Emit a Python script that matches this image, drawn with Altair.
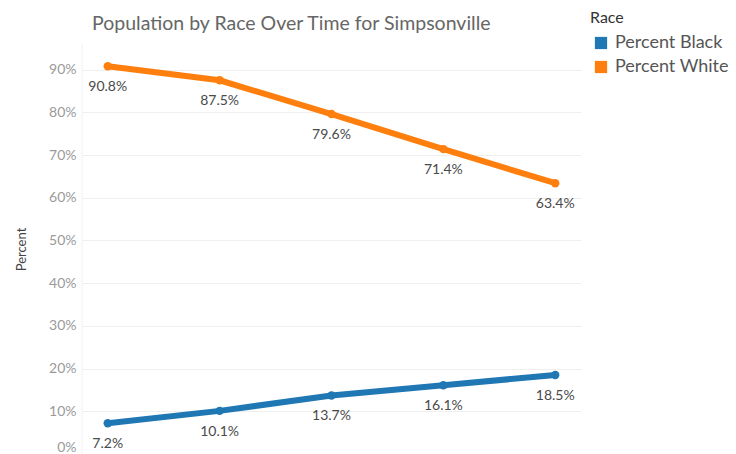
import altair as alt
import pandas as pd

# Census decades and the share of each race in Simpsonville
years = ["1980", "1990", "2000", "2010", "2020"]
pct_black = [7.2, 10.1, 13.7, 16.1, 18.5]
pct_white = [90.8, 87.5, 79.6, 71.4, 63.4]
races = ["Percent Black", "Percent White"]
colors = ["#1f77b4", "#ff7f0e"]

rows = []
for yr, b, w in zip(years, pct_black, pct_white):
    rows.append({"Year": yr, "Race": races[0], "Percent": b, "Label": f"{b:.1f}%"})
    rows.append({"Year": yr, "Race": races[1], "Percent": w, "Label": f"{w:.1f}%"})
df = pd.DataFrame(rows)

FONT = "Lato"

x = alt.X("Year:O", axis=None, scale=alt.Scale(type="point", padding=0.23))
y = alt.Y(
    "Percent:Q",
    scale=alt.Scale(domain=[0, 96], nice=False),
    axis=alt.Axis(
        title="Percent",
        values=[0, 10, 20, 30, 40, 50, 60, 70, 80, 90],
        labelExpr="datum.value + '%'",
        labelFlush=True,
        labelColor="#9a9a9a",
        labelFontSize=14,
        labelFont=FONT,
        labelPadding=6,
        titleFont=FONT,
        titleFontSize=13,
        titleFontWeight="normal",
        titleColor="#444444",
        titlePadding=20,
        ticks=False,
        domain=False,
        gridColor="#efefef",
        gridWidth=1,
    ),
)
color = alt.Color(
    "Race:N",
    scale=alt.Scale(domain=races, range=colors),
    legend=alt.Legend(
        title="Race",
        orient="none",
        legendX=508,
        legendY=-34,
        symbolType="square",
        symbolSize=150,
        symbolStrokeWidth=0,
        symbolOpacity=1,
        symbolOffset=2,
        titleFont=FONT,
        titleFontSize=16,
        titleFontWeight="normal",
        titleColor="#333333",
        titlePadding=8,
        labelFont=FONT,
        labelFontSize=18,
        labelColor="#555555",
        rowPadding=6,
        labelOffset=5,
    ),
)

base = alt.Chart(df).encode(x=x, y=y, color=color)

lines = base.mark_line(strokeWidth=6, strokeCap="round")
points = base.mark_circle(size=70, opacity=1)
labels = base.mark_text(
    dy=21, fontSize=14, font=FONT, color="#4a4a4a"
).encode(text="Label:N", color=alt.value("#4a4a4a"))

# faint left edge of the plot
edge = alt.Chart(pd.DataFrame({"v": [0]})).mark_rule(
    color="#f2f2f2", strokeWidth=1
).encode(x=alt.value(0), y=alt.value(0), y2=alt.value(410))

chart = (
    alt.layer(edge, lines, points, labels)
    .properties(
        width=499,
        height=410,
        background="white",
        title=alt.TitleParams(
            "Population by Race Over Time for Simpsonville",
            anchor="start",
            frame="group",
            dx=10,
            dy=24,
            offset=0,
            font=FONT,
            fontSize=19.5,
            fontWeight="normal",
            color="#666666",
        ),
        autosize=alt.AutoSizeParams(type="none"),
        padding={"left": 82, "top": 44, "right": 155, "bottom": 0},
    )
    .configure_view(stroke=None, strokeWidth=0)
)

chart.save("out.html", embed_options={"renderer": "svg", "actions": False})
